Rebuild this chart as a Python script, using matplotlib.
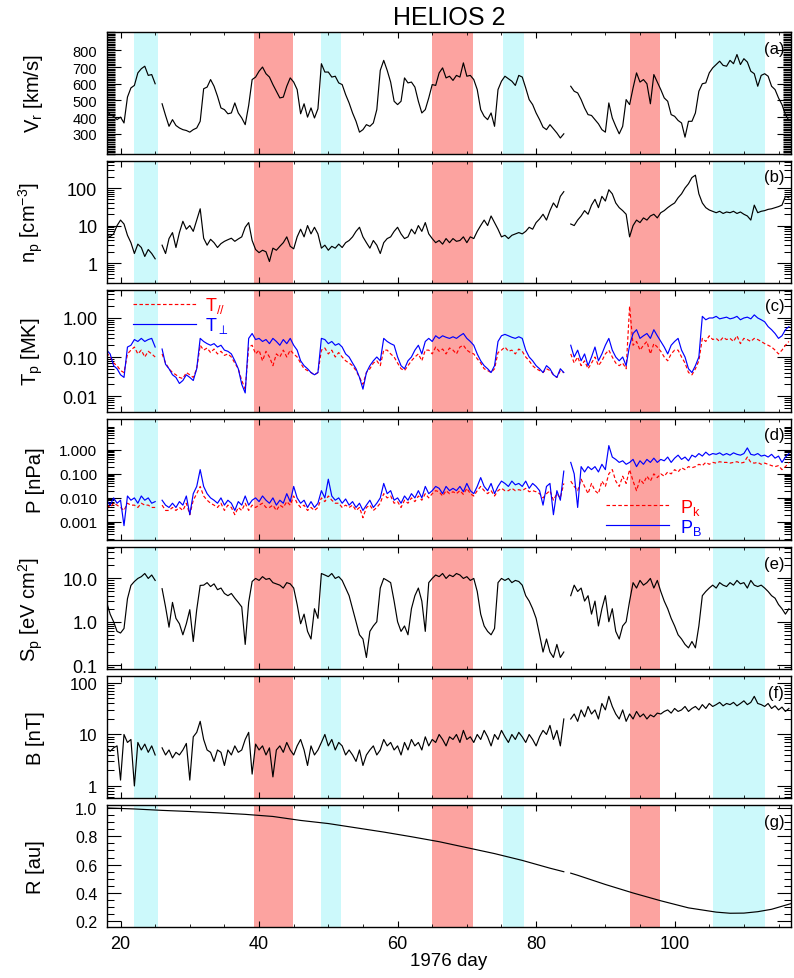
import numpy as np
import matplotlib.pyplot as plt
from matplotlib.ticker import MultipleLocator, LogLocator, NullFormatter

plt.rcParams['font.family'] = ['Liberation Sans', 'DejaVu Sans']
plt.rcParams['mathtext.default'] = 'regular'

nan = np.nan
# sampling grid of the time series (1976 day of year)
day = np.arange(18.0, 116.6, 0.5)

# (a) radial speed [km/s]
v_r = [440, 415, 405, 385, 400, 365, 520, 575, 590, 665,
       690, 705, 650, 655, 600, nan, 480, 410, 345, 385,
       350, 335, 325, 320, 310, 325, 335, 375, 570, 580,
       625, 585, 525, 455, 445, 420, 425, 485, 425, 395,
       355, 470, 625, 640, 675, 700, 660, 640, 595, 555,
       515, 520, 585, 635, 610, 565, 420, 480, 400, 455,
       395, 450, 720, 670, 670, 640, 645, 605, 595, 535,
       485, 425, 375, 310, 325, 355, 345, 365, 445, 680,
       740, 680, 610, 495, 475, 495, 635, 605, 610, 580,
       495, 425, 445, 515, 595, 590, 665, 695, 635, 645,
       620, 650, 640, 725, 645, 650, 625, 565, 445, 405,
       385, 425, 345, 565, 615, 645, 630, 615, 590, 650,
       640, 575, 505, 475, 425, 385, 340, 325, 355, 330,
       305, 275, 300, nan, 585, 555, 545, 505, 455, 415,
       410, 385, 360, 325, 310, 485, 395, 345, 300, 345,
       505, 475, 575, 665, 610, 625, 600, 480, 655, 610,
       565, 515, 495, 415, 405, 380, 365, 280, 375, 375,
       425, 555, 600, 605, 665, 695, 715, 735, 710, 705,
       740, 720, 775, 715, 750, 730, 675, 660, 585, 650,
       660, 645, 585, 565, 515, 475, 415, 380]

# (b) proton density [cm^-3]
n_p = [5.5, 5.1, 6.0, 10, 14, 11, 5.5, 3.5, 1.8, 3.2,
       2.6, 1.5, 2.3, 1.8, 1.3, nan, 3.0, 1.8, 4.5, 6.5,
       2.6, 6.5, 13, 8, 10, 7, 14, 28, 4.6, 3.0,
       4.3, 3.5, 2.6, 3.3, 3.8, 4.2, 4.6, 3.8, 4.4, 5.0,
       9, 12, 4.0, 2.3, 1.9, 2.2, 2.0, 1.1, 2.5, 2.2,
       2.8, 3.5, 5.0, 2.8, 2.4, 5.0, 8, 5, 10, 6,
       9, 6, 2.5, 3.0, 2.2, 2.8, 2.5, 3.2, 2.6, 3.5,
       4.0, 5.0, 7, 9, 5, 3.5, 2.5, 4, 3, 1.8,
       3.5, 4.5, 5, 7, 9, 6, 4.5, 5, 8, 6,
       10, 7, 12, 6, 4.5, 3.5, 4, 3.2, 4.5, 3.5,
       4.5, 3.8, 4, 5, 3.5, 5, 4.5, 7, 10, 14,
       10, 18, 12, 8, 5, 5.5, 4.5, 5.5, 6, 6.5,
       6, 7, 9, 8, 12, 15, 20, 14, 25, 40,
       30, 60, 80, nan, 11, 10, 14, 18, 25, 20,
       35, 50, 30, 60, 45, 90, 70, 40, 30, 25,
       20, 5, 10, 14, 12, 16, 14, 18, 20, 16,
       22, 25, 30, 35, 40, 55, 70, 100, 130, 190,
       220, 70, 40, 30, 26, 24, 22, 24, 21, 23,
       22, 24, 21, 23, 20, 18, 14, 35, 22, 24,
       25, 27, 28, 30, 32, 35, 60, 55]

# (c) proton temperatures [MK]
t_par = [0.13, 0.1, 0.07, 0.06, 0.045, 0.04, 0.12, 0.15, 0.18, 0.12,
         0.15, 0.1, 0.14, 0.12, 0.1, nan, 0.12, 0.07, 0.05, 0.04,
         0.035, 0.03, 0.028, 0.04, 0.035, 0.03, 0.05, 0.2, 0.15, 0.17,
         0.13, 0.16, 0.12, 0.14, 0.11, 0.12, 0.1, 0.07, 0.05, 0.025,
         0.015, 0.18, 0.2, 0.12, 0.15, 0.08, 0.14, 0.1, 0.06, 0.12,
         0.1, 0.15, 0.1, 0.15, 0.12, 0.1, 0.07, 0.05, 0.045, 0.04,
         0.035, 0.04, 0.15, 0.17, 0.12, 0.15, 0.1, 0.13, 0.1, 0.08,
         0.07, 0.06, 0.045, 0.03, 0.02, 0.04, 0.05, 0.07, 0.08, 0.06,
         0.15, 0.15, 0.12, 0.1, 0.07, 0.05, 0.045, 0.06, 0.08, 0.1,
         0.12, 0.08, 0.15, 0.15, 0.12, 0.18, 0.14, 0.16, 0.12, 0.17,
         0.15, 0.12, 0.18, 0.2, 0.15, 0.13, 0.12, 0.09, 0.07, 0.05,
         0.045, 0.04, 0.05, 0.13, 0.15, 0.18, 0.14, 0.15, 0.12, 0.16,
         0.14, 0.1, 0.08, 0.06, 0.05, 0.045, 0.04, 0.05, 0.045, 0.035,
         0.03, 0.045, 0.04, nan, 0.12, 0.07, 0.1, 0.06, 0.08, 0.05,
         0.07, 0.1, 0.06, 0.08, 0.12, 0.15, 0.1, 0.07, 0.06, 0.07,
         0.05, 2.0, 0.2, 0.25, 0.15, 0.2, 0.25, 0.12, 0.22, 0.18,
         0.14, 0.1, 0.08, 0.12, 0.15, 0.15, 0.1, 0.07, 0.04, 0.035,
         0.05, 0.08, 0.3, 0.25, 0.35, 0.28, 0.3, 0.25, 0.32, 0.28,
         0.3, 0.25, 0.35, 0.22, 0.3, 0.28, 0.25, 0.3, 0.28, 0.25,
         0.22, 0.2, 0.18, 0.15, 0.12, 0.15, 0.2, 0.25]
t_perp = [0.15, 0.12, 0.06, 0.05, 0.035, 0.03, 0.18, 0.2, 0.28, 0.25,
          0.3, 0.25, 0.28, 0.3, 0.18, nan, 0.16, 0.065, 0.05, 0.035,
          0.03, 0.021, 0.025, 0.035, 0.03, 0.025, 0.05, 0.3, 0.25, 0.22,
          0.2, 0.22, 0.18, 0.2, 0.15, 0.14, 0.12, 0.08, 0.05, 0.02,
          0.012, 0.3, 0.4, 0.28, 0.3, 0.25, 0.28, 0.22, 0.3, 0.25,
          0.2, 0.28, 0.22, 0.3, 0.2, 0.15, 0.08, 0.06, 0.05, 0.04,
          0.035, 0.04, 0.3, 0.28, 0.22, 0.25, 0.2, 0.22, 0.18, 0.12,
          0.1, 0.07, 0.05, 0.03, 0.015, 0.04, 0.06, 0.08, 0.1, 0.08,
          0.3, 0.25, 0.22, 0.2, 0.1, 0.06, 0.05, 0.08, 0.1, 0.15,
          0.2, 0.12, 0.25, 0.3, 0.25, 0.35, 0.3, 0.35, 0.32, 0.3,
          0.33, 0.3, 0.35, 0.4, 0.3, 0.25, 0.2, 0.12, 0.08, 0.06,
          0.05, 0.04, 0.06, 0.25, 0.35, 0.38, 0.35, 0.32, 0.3, 0.33,
          0.3, 0.15, 0.1, 0.08, 0.06, 0.05, 0.04, 0.06, 0.05, 0.035,
          0.03, 0.05, 0.04, nan, 0.2, 0.1, 0.15, 0.08, 0.12, 0.06,
          0.1, 0.18, 0.08, 0.12, 0.2, 0.3, 0.15, 0.1, 0.08, 0.1,
          0.06, 0.2, 0.4, 0.5, 0.3, 0.35, 0.4, 0.3, 0.5, 0.35,
          0.25, 0.18, 0.12, 0.2, 0.25, 0.3, 0.15, 0.1, 0.05, 0.04,
          0.06, 0.1, 1.1, 0.9, 1.0, 1.0, 1.1, 0.95, 1.0, 1.05,
          0.95, 1.0, 1.1, 0.9, 1.0, 1.05, 0.95, 1.2, 1.0, 0.9,
          0.8, 0.6, 0.5, 0.4, 0.3, 0.35, 0.5, 0.6]

# (d) kinetic and magnetic pressure [nPa]
p_k = [0.005, 0.004, 0.006, 0.005, 0.004, 0.003, 0.006, 0.005, 0.005, 0.004,
       0.006, 0.005, 0.005, 0.004, 0.004, nan, 0.005, 0.003, 0.003, 0.004,
       0.003, 0.004, 0.003, 0.006, 0.002, 0.008, 0.015, 0.03, 0.012, 0.008,
       0.006, 0.005, 0.004, 0.006, 0.003, 0.005, 0.004, 0.002, 0.004, 0.003,
       0.006, 0.003, 0.005, 0.004, 0.005, 0.006, 0.004, 0.004, 0.005, 0.003,
       0.005, 0.004, 0.007, 0.005, 0.012, 0.006, 0.004, 0.005, 0.003, 0.004,
       0.003, 0.004, 0.01, 0.007, 0.012, 0.008, 0.006, 0.006, 0.004, 0.005,
       0.004, 0.005, 0.003, 0.004, 0.0015, 0.004, 0.005, 0.003, 0.004, 0.006,
       0.015, 0.01, 0.012, 0.006, 0.007, 0.004, 0.008, 0.006, 0.01, 0.007,
       0.012, 0.008, 0.015, 0.01, 0.015, 0.02, 0.018, 0.012, 0.02, 0.015,
       0.018, 0.015, 0.02, 0.014, 0.025, 0.015, 0.012, 0.02, 0.03, 0.02,
       0.015, 0.02, 0.012, 0.02, 0.025, 0.02, 0.02, 0.025, 0.02, 0.022,
       0.02, 0.025, 0.018, 0.02, 0.018, 0.015, 0.01, 0.015, 0.02, 0.008,
       0.015, 0.01, 0.04, nan, 0.05, 0.03, 0.02, 0.06, 0.03, 0.015,
       0.04, 0.02, 0.015, 0.05, 0.03, 0.1, 0.15, 0.05, 0.03, 0.08,
       0.04, 0.15, 0.05, 0.02, 0.06, 0.04, 0.08, 0.05, 0.1, 0.07,
       0.1, 0.08, 0.12, 0.1, 0.15, 0.12, 0.18, 0.15, 0.2, 0.18,
       0.2, 0.25, 0.22, 0.3, 0.25, 0.3, 0.28, 0.32, 0.3, 0.3,
       0.28, 0.3, 0.32, 0.28, 0.3, 0.5, 0.3, 0.28, 0.3, 0.25,
       0.28, 0.25, 0.22, 0.2, 0.22, 0.15, 0.2, 0.3]
p_b = [0.008, 0.005, 0.01, 0.006, 0.008, 0.0007, 0.012, 0.008, 0.01, 0.006,
       0.012, 0.008, 0.01, 0.006, 0.007, nan, 0.008, 0.005, 0.004, 0.006,
       0.004, 0.007, 0.005, 0.012, 0.002, 0.015, 0.03, 0.15, 0.03, 0.015,
       0.01, 0.008, 0.006, 0.01, 0.005, 0.008, 0.006, 0.003, 0.007, 0.005,
       0.012, 0.005, 0.008, 0.01, 0.007, 0.012, 0.008, 0.006, 0.01, 0.005,
       0.008, 0.006, 0.015, 0.007, 0.03, 0.01, 0.006, 0.008, 0.004, 0.007,
       0.004, 0.006, 0.02, 0.01, 0.06, 0.012, 0.008, 0.01, 0.006, 0.009,
       0.005, 0.007, 0.004, 0.006, 0.003, 0.005, 0.008, 0.004, 0.006, 0.01,
       0.04, 0.015, 0.02, 0.008, 0.01, 0.006, 0.012, 0.008, 0.015, 0.01,
       0.02, 0.01, 0.03, 0.015, 0.02, 0.03, 0.025, 0.015, 0.03, 0.02,
       0.025, 0.02, 0.03, 0.018, 0.04, 0.02, 0.015, 0.03, 0.07, 0.03,
       0.02, 0.04, 0.015, 0.03, 0.05, 0.04, 0.03, 0.05, 0.035, 0.04,
       0.03, 0.05, 0.025, 0.04, 0.03, 0.02, 0.005, 0.03, 0.04, 0.002,
       0.02, 0.008, 0.13, nan, 0.3, 0.1, 0.004, 0.2, 0.12, 0.2,
       0.15, 0.2, 0.12, 0.25, 0.15, 1.5, 0.5, 0.4, 0.3, 0.35,
       0.25, 0.3, 0.4, 0.2, 0.35, 0.25, 0.4, 0.3, 0.45, 0.3,
       0.4, 0.35, 0.5, 0.3, 0.45, 0.6, 0.4, 0.5, 0.35, 0.6,
       0.5, 0.7, 0.55, 0.8, 0.6, 0.7, 0.65, 0.75, 0.6, 0.7,
       0.6, 0.75, 0.65, 0.6, 0.7, 1.2, 0.65, 0.6, 0.7, 0.55,
       0.6, 0.5, 0.65, 0.45, 0.55, 0.3, 0.5, 0.7]

# (e) proton entropy [eV cm^2]
s_p = [2.8, 1.5, 1.0, 0.6, 0.55, 0.7, 3.4, 6.9, 8.5, 10,
       11, 13, 10, 12, 9, nan, 5.8, 2.2, 0.75, 2.8,
       1.2, 0.9, 0.5, 0.9, 1.9, 0.35, 1.9, 6.9, 7, 8,
       6.5, 7.5, 5.5, 6, 4.5, 4, 4.5, 3.5, 2.8, 2.2,
       0.3, 2.8, 8.5, 10, 9, 11, 9.5, 10, 8, 7.5,
       7, 6, 8, 7.5, 6, 2.5, 0.9, 1.5, 0.6, 0.4,
       2, 1.2, 13, 12, 11, 13, 10, 11, 9, 6,
       4, 2, 1.0, 0.5, 0.4, 0.15, 0.6, 0.8, 1.0, 6,
       10, 9, 8, 3, 1.0, 0.6, 0.8, 0.5, 2, 4,
       6, 3, 0.6, 8, 10, 12, 11, 13, 10, 12,
       11, 13, 12, 10, 11, 9, 10, 5, 1.5, 0.8,
       0.6, 0.5, 0.7, 8, 10, 9, 10, 8, 9, 8.5,
       7, 4, 3, 2, 1.2, 0.5, 0.2, 0.4, 0.2, 0.15,
       0.3, 0.15, 0.2, nan, 4, 7, 5, 6, 3, 4,
       1.5, 3, 0.8, 2, 4, 1.0, 2, 0.6, 0.4, 0.8,
       1.0, 3, 8, 6, 9, 7, 8, 10, 6, 9,
       5, 3, 2, 1.2, 0.8, 0.5, 0.4, 0.3, 0.25, 0.35,
       0.25, 0.8, 4, 5, 6, 7, 6, 8, 7, 6.5,
       8, 7, 9, 7.5, 8, 6, 9, 7, 6.5, 7,
       6, 5, 4, 3.5, 2.5, 2, 1.5, 2]

# (f) magnetic field [nT]
b_mag = [5.5, 4.7, 5.5, 6, 1.3, 10, 7, 8, 1.0, 7,
         5, 6.5, 4.5, 6, 4, nan, 5.5, 4, 5, 3.5,
         4.5, 4, 5, 6.7, 1.3, 9, 11, 18, 8, 5,
         4.5, 3, 5, 4.5, 2.5, 5, 4, 6, 4.5, 5,
         8, 11, 1.7, 6.5, 5, 6, 4, 5.5, 1.5, 5,
         6, 4.5, 7, 5, 4, 6, 8, 5, 2.5, 6,
         4, 5, 7, 10, 6, 8, 5, 7, 6, 4,
         5, 4, 3, 5, 2.5, 4, 5, 6, 4, 5,
         8, 6, 7, 5, 6, 4, 7, 5, 8, 6,
         7, 5, 9, 6, 8, 7, 10, 8, 6, 9,
         8, 10, 7, 12, 8, 9, 7, 10, 8, 12,
         9, 6, 10, 8, 12, 9, 7, 10, 8, 11,
         9, 7, 10, 8, 6, 9, 12, 10, 15, 8,
         12, 6, 20, nan, 20, 25, 18, 30, 22, 35,
         25, 30, 20, 40, 30, 55, 35, 25, 20, 30,
         18, 25, 20, 28, 22, 25, 20, 24, 22, 26,
         25, 28, 30, 26, 32, 28, 30, 35, 28, 32,
         35, 30, 38, 32, 40, 35, 38, 42, 36, 40,
         38, 42, 36, 40, 45, 38, 42, 55, 40, 38,
         35, 40, 32, 36, 30, 34, 28, 32]

# (g) heliocentric distance [au]
r_day = [18, 22, 26, 30, 34, 38, 42, 46, 50, 54, 58, 62, 66, 70, 74, 78, 82,
         84, 84.6, 85, 86, 90, 94, 98, 102, 106, 108, 110, 112, 114, 116.8]
r_au = [1.0, 0.993, 0.983, 0.975, 0.966, 0.955, 0.94, 0.912, 0.89, 0.86, 0.83,
        0.797, 0.762, 0.72, 0.678, 0.63, 0.575, 0.55, nan, 0.54, 0.525, 0.46,
        0.40, 0.345, 0.295, 0.265, 0.257, 0.258, 0.268, 0.285, 0.325]

# shaded intervals
cyan_spans = [(21.9, 25.4), (48.9, 51.8), (75.2, 78.2), (105.6, 113.1)]
red_spans = [(39.3, 44.9), (65.0, 70.9), (93.5, 97.9)]

ylabels = [r'V$_r$ [km/s]', r'n$_p$ [cm$^{-3}$]', r'T$_p$ [MK]', 'P [nPa]',
           r'S$_p$ [eV cm$^2$]', 'B [nT]', 'R [au]']
panel_tags = ['(a)', '(b)', '(c)', '(d)', '(e)', '(f)', '(g)']
ylims = [(180, 910), (0.3, 530), (0.004, 5.3), (0.00017, 20), (0.08, 52), (0.58, 135), (0.16, 1.02)]
yticks = [[300, 400, 500, 600, 700, 800], [1, 10, 100], [0.01, 0.1, 1.0],
          [0.001, 0.01, 0.1, 1.0], [0.1, 1.0, 10.0], [1, 10, 100], [0.2, 0.4, 0.6, 0.8, 1.0]]
ytick_labels = [['300', '400', '500', '600', '700', '800'], ['1', '10', '100'],
                ['0.01', '0.10', '1.00'], ['0.001', '0.010', '0.100', '1.000'],
                ['0.1', '1.0', '10.0'], ['1', '10', '100'], ['0.2', '0.4', '0.6', '0.8', '1.0']]
ytick_sizes = [10.5, 13, 13, 11, 13, 12, 11.5]
log_panels = [False, True, True, True, True, True, False]

fig, axs = plt.subplots(7, 1, figsize=(7.94, 9.79), dpi=100, sharex=True)
fig.subplots_adjust(left=0.1348, right=0.9962, top=0.9663, bottom=0.0521, hspace=0.0574)

lw = 0.85
axs[0].plot(day, v_r, color='black', lw=lw)
axs[1].plot(day, n_p, color='black', lw=lw)
axs[2].plot(day, t_par, color='red', lw=lw, ls=(0, (3, 2)), label=r'T$_{//}$')
axs[2].plot(day, t_perp, color='blue', lw=lw, label=r'T$_{\perp}$')
axs[3].plot(day, p_k, color='red', lw=lw, ls=(0, (3, 2)), label=r'P$_k$')
axs[3].plot(day, p_b, color='blue', lw=lw, label=r'P$_B$')
axs[4].plot(day, s_p, color='black', lw=lw)
axs[5].plot(day, b_mag, color='black', lw=lw)
axs[6].plot(r_day, r_au, color='black', lw=lw)

for i, ax in enumerate(axs):
    for a, b in cyan_spans:
        ax.axvspan(a, b, color='#ccf9fb', lw=0, zorder=0)
    for a, b in red_spans:
        ax.axvspan(a, b, color='#fca3a0', lw=0, zorder=0)
    if log_panels[i]:
        ax.set_yscale('log')
        ax.yaxis.set_minor_locator(LogLocator(base=10, subs=np.arange(2, 10), numticks=20))
        ax.yaxis.set_minor_formatter(NullFormatter())
    ax.set_ylim(*ylims[i])
    ax.set_yticks(yticks[i], ytick_labels[i])
    ax.set_ylabel(ylabels[i], fontsize=14.5)
    ax.yaxis.set_label_coords(-0.09, 0.5)
    for s in ax.spines.values():
        s.set_linewidth(1.0)
    ax.tick_params(axis='both', which='both', direction='in', top=True, right=True)
    ax.tick_params(axis='y', which='major', length=10, width=0.8, pad=7, labelsize=ytick_sizes[i])
    ax.tick_params(axis='y', which='minor', length=5, width=0.75)
    ax.tick_params(axis='x', which='major', length=4, width=0.8, pad=6, labelsize=13)
    ax.tick_params(axis='x', which='minor', length=2.5, width=0.6)
    ax.text(0.99, 0.93, panel_tags[i], transform=ax.transAxes, ha='right', va='top', fontsize=12)

# dense minor ticks on the speed axis, as in the original IDL plot
axs[0].yaxis.set_minor_locator(MultipleLocator(10))
axs[0].tick_params(axis='y', which='minor', length=5.5, width=1.0, color='black')
axs[6].yaxis.set_minor_locator(MultipleLocator(0.05))

axs[6].set_xlim(18.05, 116.8)
axs[6].xaxis.set_major_locator(MultipleLocator(20))
axs[6].xaxis.set_minor_locator(MultipleLocator(5))
axs[6].set_xlabel('1976 day', fontsize=13.5, labelpad=0)

axs[2].legend(loc='upper left', bbox_to_anchor=(0.038, 0.955), frameon=False, fontsize=13,
              handlelength=3.5, handletextpad=0.5, labelspacing=0.0, borderpad=0,
              borderaxespad=0, labelcolor='linecolor')
axs[3].legend(loc='lower right', bbox_to_anchor=(0.87, 0.03), frameon=False, fontsize=13,
              handlelength=3.5, handletextpad=0.6, labelspacing=0.0, borderpad=0,
              borderaxespad=0, labelcolor='linecolor')

axs[0].set_title('HELIOS 2', fontsize=18, pad=6)

fig.savefig('out.png', dpi=100)
